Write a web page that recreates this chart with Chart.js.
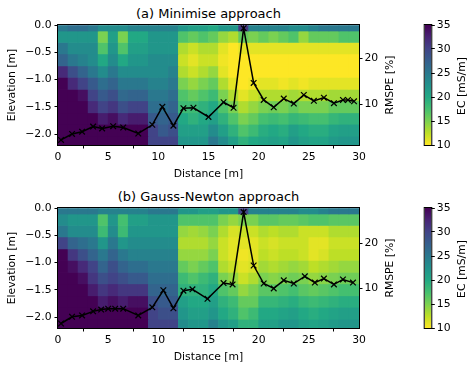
<!DOCTYPE html>
<html>
<head>
<meta charset="utf-8">
<script src="https://cdn.jsdelivr.net/npm/chart.js@4.4.1/dist/chart.umd.min.js"></script>
<style>
  body { margin: 0; background: #fff; }
  #wrap { position: relative; width: 474px; height: 370px; background: #fff; overflow: hidden; }
  canvas { position: absolute; }
  .ttl { position: absolute; left: 58px; width: 301px; height: 18px; line-height: 18px;
         text-align: center; font: 13px "DejaVu Sans", sans-serif; color: #000; white-space: nowrap; }
  .rot { position: absolute; font: 10.8px "DejaVu Sans", sans-serif; color: #000; white-space: nowrap;
         transform: translate(-50%, -50%) rotate(-90deg); }
</style>
</head>
<body>
<div id="wrap">
  <div class="ttl" style="top:6px">(a) Minimise approach</div>
  <canvas id="panelA" width="400" height="185" style="left:0;top:0"></canvas>
  <canvas id="cbarA" width="54" height="185" style="left:420px;top:0"></canvas>
  <div class="rot" style="left:389px;top:85px">RMSPE [%]</div>
  <div class="rot" style="left:461px;top:86px">EC [mS/m]</div>

  <div class="ttl" style="top:189px">(b) Gauss-Newton approach</div>
  <canvas id="panelB" width="400" height="185" style="left:0;top:183px"></canvas>
  <canvas id="cbarB" width="54" height="185" style="left:420px;top:183px"></canvas>
  <div class="rot" style="left:389px;top:268px">RMSPE [%]</div>
  <div class="rot" style="left:461px;top:269px">EC [mS/m]</div>
</div>
<script>
// axes ticks
const distanceTicks = [0, 5, 10, 15, 20, 25, 30];
const elevationTicks = [-2.0, -1.5, -1.0, -0.5, 0.0];
const rmspeTicks = [10, 20];
const ecTicks = [10, 15, 20, 25, 30, 35];

// model grid: column centres [m] and layer edges [m]
const colCenters = [0.5, 1.5, 2.5, 3.5, 4.5, 5.5, 6.5, 7.5, 8.5, 9.5,
  10.5, 11.5, 12.5, 13.5, 14.5, 15.5, 16.5, 17.5, 18.5, 19.5,
  20.5, 21.5, 22.5, 23.5, 24.5, 25.5, 26.5, 27.5, 28.5, 29.5];
const layerEdges = [0, -0.11, -0.32, -0.53, -0.75, -0.96, -1.18, -1.39, -1.61, -1.82, -2.04, -2.25];

// EC [mS/m], one row per layer (top to bottom)
const ecMinimise = [
  [25, 26, 26, 25, 23, 23, 23, 24, 24, 24, 24, 24, 22, 21, 21, 20, 22, 22, 31, 24, 24, 24, 24, 23, 23, 24, 25, 25, 25, 25],
  [22, 22, 22, 22, 15, 21, 15, 20, 20, 22, 22, 22, 17, 16, 17, 16, 14, 13, 16, 15, 16, 15, 16, 17, 14, 16, 16, 16, 17, 17],
  [25, 23, 23, 23, 17, 22, 17, 21, 21, 22, 22, 22, 13, 12, 13, 13, 11, 10, 11, 11, 11, 11, 11, 11, 11, 11, 11, 11, 11, 11],
  [27, 25, 24, 23, 20, 23, 20, 22, 22, 23, 23, 23, 12, 11, 12, 12, 10.5, 10, 10, 10, 10, 10, 10, 10, 10, 10, 10, 10, 10, 10],
  [32, 29, 27, 25, 23, 25, 23, 23, 23, 23, 23, 24, 13, 12, 13, 14, 11, 10, 10, 10, 10, 10, 10, 10, 10, 10, 10, 10, 10, 10],
  [35, 32, 30, 28, 26, 27, 25, 25, 25, 24, 24, 25, 15, 14, 15, 16, 13, 11, 10, 10.5, 11, 11, 10.5, 11, 10.5, 11, 11, 11, 11, 11],
  [35, 35, 34, 30, 28, 29, 26.5, 27, 27, 25, 25, 26, 17, 16, 17, 18, 15, 13, 11, 12, 13, 13, 13, 13.5, 13, 13, 13, 13.5, 13.5, 13.5],
  [35, 35, 35, 32, 30, 31, 29, 30, 30, 26, 26, 27, 18, 18, 19, 20, 17, 15, 13, 14, 15, 15.5, 15, 16, 15, 15, 15, 16, 16, 16],
  [35, 35, 35, 35, 33, 34, 32, 33, 33, 28, 27, 28, 20, 19, 20, 21, 19, 17, 15, 16, 17.5, 18, 17.5, 18.5, 18, 17.5, 17.5, 18.5, 19, 19],
  [35, 35, 35, 35, 35, 35, 35, 35, 35, 30, 28, 29, 21, 21, 21, 23, 21, 19, 17, 18, 19.5, 20, 19.5, 21, 20, 19.5, 19.5, 20.5, 21, 21],
  [35, 35, 35, 35, 35, 35, 35, 35, 35, 30, 30, 30, 22, 22, 22, 25, 23, 21, 19, 20, 20.5, 21, 20.5, 22, 21, 20.5, 20.5, 21.5, 22, 22]
];
const ecGaussNewton = [
  [25, 25, 25, 25, 24, 24, 24, 24, 24, 25, 25, 25, 22, 22, 21, 21, 22, 22, 30, 24, 24, 24, 24, 24, 23, 23, 24, 25, 25, 25],
  [23, 22, 22, 22, 17, 22, 17.5, 21, 21, 22, 22, 22, 17, 17, 17, 17, 15, 14, 15, 15, 16.5, 16.5, 16, 16, 16.5, 17, 17, 16.5, 16.5, 16.5],
  [25, 23, 23, 23, 18, 23, 18, 22, 22, 22, 22, 22, 14, 13.5, 14, 15, 13, 11.5, 12, 12, 13, 12.5, 13, 13, 12, 12, 12, 13, 13, 13],
  [30, 27, 26, 25, 22, 25, 22, 23, 23, 23, 23, 23, 13, 13, 13, 14, 12, 11, 11, 11, 12, 11.5, 12, 12, 12, 11, 11, 12, 12, 12],
  [35, 31, 29, 27, 25, 27, 25, 24, 24, 24, 24, 24, 14, 14, 14, 15, 12, 11, 10.5, 11, 12.5, 12, 12.5, 12.5, 12, 11, 11.5, 12.5, 12.5, 12.5],
  [35, 34, 32, 30, 27, 29, 27, 26, 26, 25, 25, 25, 16, 15, 16, 17, 13, 12, 11, 11.5, 13.5, 13, 13.5, 14, 13.5, 12.5, 13, 13.5, 14, 14],
  [35, 35, 34, 31, 29, 30, 29, 28, 28, 26, 26, 26, 18, 17, 18, 19, 15, 14, 12, 13, 15, 14.5, 15, 15.5, 15, 14, 14.5, 15, 15.5, 15.5],
  [35, 35, 35, 33, 31, 32, 31, 31, 31, 27, 27, 27, 19, 19, 19, 20, 17, 16, 14, 15, 16.5, 16.5, 17, 17.5, 16.5, 16, 16.5, 17, 17.5, 17.5],
  [35, 35, 35, 35, 33, 34, 33, 34, 34, 29, 28, 28, 21, 20, 20, 21, 19, 18, 16, 16, 18.5, 18.5, 19, 19.5, 18.5, 18, 18.5, 19, 19.5, 19.5],
  [35, 35, 35, 35, 35, 35, 35, 35, 35, 30, 29, 29, 22, 21, 21, 22, 20, 19, 17, 18, 20, 20, 20.5, 21, 20, 19.5, 20, 20.5, 21, 21],
  [35, 35, 35, 35, 35, 35, 35, 35, 35, 30, 30, 30, 23, 22, 22, 24, 22, 21, 19, 19, 21, 21, 22, 22, 21, 20.5, 21, 21.5, 22, 22]
];

// RMSPE [%] along the line
const rmspeDistA = [0.3, 1.4, 2.4, 3.5, 4.4, 5.5, 6.5, 8.0, 9.4, 10.4, 11.5, 12.5, 13.5, 15.0, 16.5, 17.5, 18.5, 19.5, 20.5, 21.5, 22.5, 23.5, 24.5, 25.5, 26.5, 27.5, 28.4, 28.9, 29.5];
const rmspeA = [2.2, 3.5, 4.0, 5.1, 4.7, 5.2, 4.9, 3.6, 5.5, 9.4, 5.3, 9.1, 9.2, 7.2, 10.4, 9.2, 26.5, 14.6, 10.9, 9.3, 11.2, 10.1, 12.0, 10.7, 11.4, 10.2, 10.9, 10.9, 10.6];
const rmspeDistB = [0.3, 1.4, 2.4, 3.5, 4.3, 5.0, 5.7, 6.5, 8.0, 9.4, 10.5, 11.5, 12.5, 13.4, 14.9, 16.5, 17.4, 18.5, 19.5, 20.5, 21.5, 22.5, 23.5, 24.6, 25.6, 26.5, 27.5, 28.4, 29.4];
const rmspeB = [2.2, 3.7, 4.0, 4.9, 5.3, 5.5, 5.5, 5.5, 4.0, 5.8, 9.6, 5.6, 9.5, 9.8, 7.7, 11.2, 10.9, 27.0, 15.1, 11.1, 10.0, 11.8, 11.1, 12.7, 11.3, 12.2, 10.9, 12.0, 11.3];

const ecMin = 10, ecMax = 35;
// viridis stops (matplotlib), reversed for the EC scale
const viridis = ["#440154", "#482475", "#414487", "#355f8d", "#2a788e", "#21918c",
  "#22a884", "#44bf70", "#7ad151", "#bddf26", "#fde725"];

Chart.defaults.font.family = "'DejaVu Sans', sans-serif";
Chart.defaults.font.size = 10.8;
Chart.defaults.color = "#000";

function hexRgb(h) {
  return [1, 3, 5].map(i => parseInt(h.slice(i, i + 2), 16));
}

// EC value -> colour (viridis_r)
function ecColor(v) {
  const t = Math.min(1, Math.max(0, (ecMax - v) / (ecMax - ecMin))) * 10;
  const i = Math.min(9, Math.floor(t));
  const f = t - i;
  const a = hexRgb(viridis[i]), b = hexRgb(viridis[i + 1]);
  const c = a.map((x, k) => Math.round(x + (b[k] - x) * f));
  return `rgb(${c[0]},${c[1]},${c[2]})`;
}

// axes frame (matplotlib spines)
const framePlugin = {
  id: "frame",
  afterDatasetsDraw(chart) {
    const { ctx, chartArea: a } = chart;
    ctx.save();
    ctx.strokeStyle = "#000";
    ctx.lineWidth = 1;
    ctx.strokeRect(a.left - 0.5, a.top - 0.5, a.right - a.left + 1, a.bottom - a.top + 1);
    ctx.restore();
  }
};

const tickGrid = { display: true, drawOnChartArea: false, tickLength: 3.5, tickColor: "#000", color: "#000" };

function fmt(v) {
  if (Math.abs(v) < 1e-9) return "0.0";
  return (v < 0 ? "\u2212" : "") + Math.abs(v).toFixed(1);
}

// Heatmap + RMSPE line for one panel
function drawPanel(canvasId, grid, dist, rmspe, rmspeRange) {
  const datasets = grid.map((row, r) => ({
    type: "bar",
    order: 1,
    grouped: false,
    barPercentage: 1,
    categoryPercentage: 1,
    borderWidth: 0,
    data: row.map((v, c) => ({ x: colCenters[c], y: [layerEdges[r], layerEdges[r + 1]] })),
    backgroundColor: row.map(ecColor),
    yAxisID: "y"
  }));

  datasets.push({
    type: "line",
    order: 0,
    data: dist.map((d, i) => ({ x: d, y: rmspe[i] })),
    yAxisID: "y2",
    borderColor: "#000",
    borderWidth: 1.5,
    pointStyle: "crossRot",
    pointRadius: 4,
    pointBorderColor: "#000",
    pointBorderWidth: 1.2,
    tension: 0,
    clip: false
  });

  return new Chart(document.getElementById(canvasId), {
    type: "bar",
    data: { datasets },
    plugins: [framePlugin],
    options: {
      responsive: false,
      animation: false,
      layout: { padding: { top: 25 } },
      plugins: { legend: { display: false }, tooltip: { enabled: false } },
      scales: {
        x: {
          type: "linear", min: 0, max: 30, offset: false,
          grid: tickGrid, border: { display: false },
          afterBuildTicks: s => { s.ticks = distanceTicks.map(v => ({ value: v })); },
          ticks: { padding: 2, maxRotation: 0, autoSkip: false },
          title: { display: true, text: "Distance [m]", padding: { top: 0, bottom: 4.5 } },
          afterFit: s => { s.height = 40; }
        },
        y: {
          type: "linear", position: "left", min: -2.2, max: 0,
          grid: tickGrid, border: { display: false },
          afterBuildTicks: s => { s.ticks = elevationTicks.map(v => ({ value: v })); },
          ticks: { padding: 3, callback: v => fmt(v) },
          title: { display: true, text: "Elevation [m]", padding: { top: 5.5, bottom: 0 } },
          afterFit: s => { s.width = 58; }
        },
        y2: {
          type: "linear", position: "right", min: rmspeRange[0], max: rmspeRange[1],
          grid: tickGrid, border: { display: false },
          afterBuildTicks: s => { s.ticks = rmspeTicks.map(v => ({ value: v })); },
          ticks: { padding: 2 },
          afterFit: s => { s.width = 41; }
        }
      }
    }
  });
}

// Colour bar
function drawColorbar(canvasId) {
  return new Chart(document.getElementById(canvasId), {
    type: "bar",
    data: {
      labels: ["EC"],
      datasets: [{
        data: [[ecMin, ecMax]],
        barPercentage: 1,
        categoryPercentage: 1,
        borderWidth: 0,
        backgroundColor: ctx => {
          const a = ctx.chart.chartArea;
          if (!a) return "#21918c";
          const g = ctx.chart.ctx.createLinearGradient(0, a.bottom, 0, a.top);
          viridis.forEach((c, i) => g.addColorStop(i / 10, viridis[10 - i]));
          return g;
        }
      }]
    },
    plugins: [framePlugin],
    options: {
      responsive: false,
      animation: false,
      layout: { padding: { top: 25, left: 4.7, bottom: 40 } },
      plugins: { legend: { display: false }, tooltip: { enabled: false } },
      scales: {
        x: { display: false },
        y: {
          position: "right", min: ecMin, max: ecMax,
          grid: tickGrid, border: { display: false },
          afterBuildTicks: s => { s.ticks = ecTicks.map(v => ({ value: v })); },
          ticks: { padding: 2 },
          afterFit: s => { s.width = 42.7; }
        }
      }
    }
  });
}

drawPanel("panelA", ecMinimise, rmspeDistA, rmspeA, [1.1, 27.2]);
drawPanel("panelB", ecGaussNewton, rmspeDistB, rmspeB, [1.2, 27.9]);
drawColorbar("cbarA");
drawColorbar("cbarB");
</script>
</body>
</html>
